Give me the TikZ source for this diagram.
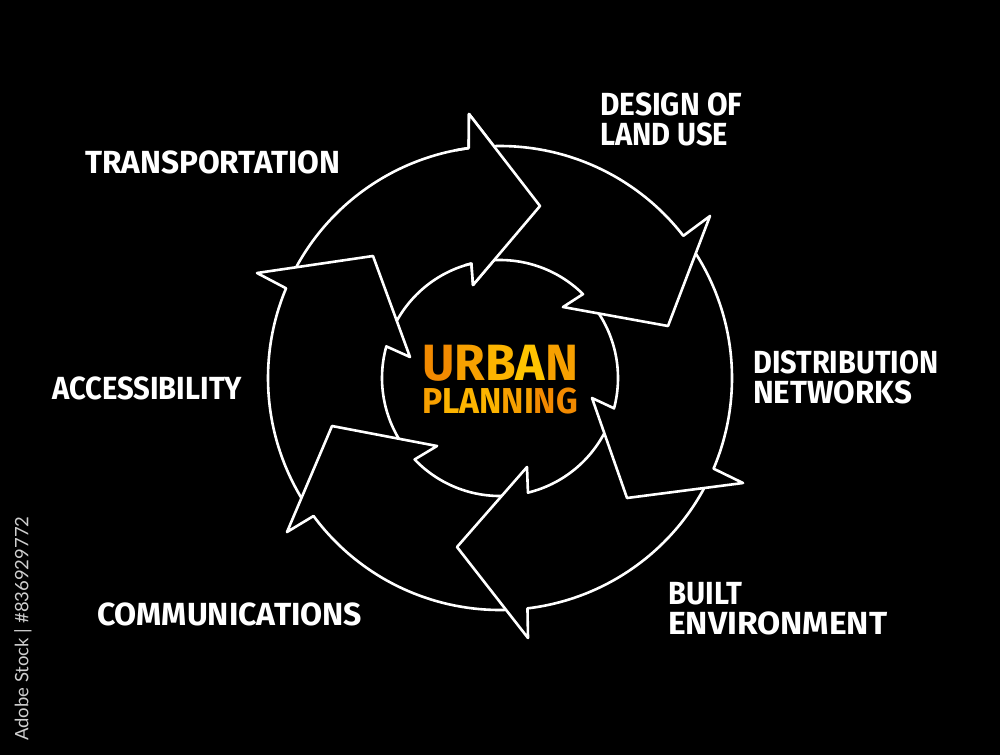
\documentclass[tikz,border=0pt]{standalone}
\usepackage{fontspec}
\usepackage{graphicx}
\newfontfamily\labfont{Fira Sans}
\newfontfamily\wmfont{Lato}
\definecolor{oA}{HTML}{F28A00}
\definecolor{oB}{HTML}{F7A000}
\definecolor{oC}{HTML}{FCB400}
\definecolor{oD}{HTML}{FFC400}
\definecolor{wmgray}{HTML}{CFCFCF}
% one line of text brought to a given width, height kept
\newcommand\fitw[2]{\resizebox{#1pt}{\height}{#2}}
% arc-arrow: #1 tail outer angle, #2 outer body end angle, #3 outer barb, #4 tip,
% #5 inner barb, #6 inner body end angle, #7 tail inner angle
\newcommand\cyclearrow[7]{%
  \filldraw[arrowshape] ([shift={(C)}]#1:232) arc[start angle=#1,end angle=#2,radius=232]
    -- #3 -- #4 -- #5 -- ([shift={(C)}]#6:118) arc[start angle=#6,end angle=#7,radius=118] -- cycle;}
\begin{document}
\begin{tikzpicture}[x=1pt,y=-1pt,
  arrowshape/.style={fill=black, draw=white, line width=2.6pt, line join=round},
  headline/.style={draw=white, line width=2.6pt, line join=round},
  lab/.style={text=white, inner sep=0pt, align=left,
    font=\labfont\bfseries\fontsize{32}{30}\selectfont},
  centre/.style={inner sep=0pt},
]
\fill[black] (0,0) rectangle (1000,755);
\useasboundingbox (0,0) rectangle (1000,755);
\coordinate (C) at (500,378);

% arrows, drawn so that each head lies on the tail of the next one
\cyclearrow{-154.75}{-97.75}{(469,114)}{(540,206)}{(473,285)}{-104}{-159.45}   % A top
\cyclearrow{146}{202.75}{(257,273)}{(373,256)}{(410,357)}{195.55}{141.35}     % F left
\cyclearrow{85.7}{143.5}{(287,532)}{(332,426)}{(437,446)}{136.35}{81.3}       % E bottom left
\cyclearrow{25.5}{83.2}{(528,638)}{(457,547)}{(527,467)}{76.3}{19.9}          % D bottom
\cyclearrow{-35.3}{23.0}{(743,483)}{(627,498)}{(592,398)}{14.9}{-40.3}        % C right low
\cyclearrow{-95.25}{-37.8}{(710,216)}{(668,326)}{(563,307)}{-45.3}{-99}       % B right high
% head of A again, over the tail of B
\fill[black] ([shift={(C)}]-97.75:232) -- (469,114) -- (540,206) -- (473,285)
  -- ([shift={(C)}]-104:118) -- cycle;
\draw[headline] ([shift={(C)}]-101:232) arc[start angle=-101,end angle=-97.75,radius=232]
  -- (469,114) -- (540,206) -- (473,285) -- ([shift={(C)}]-104:118)
  arc[start angle=-104,end angle=-107,radius=118];

% centre
\node[centre, anchor=north, font=\labfont\bfseries\fontsize{51}{51}\selectfont] (urban) at (500,345)
  {\fitw{156}{{\color{oA}U}{\color{oB}R}{\color{oC}B}{\color{oD}A}{\color{oB}N}}};
\node[centre, anchor=north, font=\labfont\bfseries\fontsize{36}{36}\selectfont] (planning) at (500,388)
  {\fitw{156}{{\color{oB}P}{\color{oC}L}{\color{oC}A}{\color{oC}N}{\color{oB}N}{\color{oB}I}{\color{oA}N}{\color{oA}G}}};

% labels
\node[lab, anchor=north west] (transp) at (85,151) {\fitw{255}{TRANSPORTATION}};
\node[lab, anchor=north west] (design) at (600,93) {\fitw{142}{DESIGN OF}\\\fitw{128}{LAND USE}};
\node[lab, anchor=north west] (distr) at (753,351) {\fitw{185}{DISTRIBUTION}\\\fitw{159}{NETWORKS}};
\node[lab, anchor=north west] (access) at (52,377) {\fitw{190}{ACCESSIBILITY}};
\node[lab, anchor=north west] (built) at (668,582) {\fitw{74}{BUILT}\\\fitw{219}{ENVIRONMENT}};
\node[lab, anchor=north west] (comm) at (97,603) {\fitw{265}{COMMUNICATIONS}};

% side credit
\node[rotate=90, anchor=west, inner sep=0pt, text=wmgray,
  font=\wmfont\fontsize{18.5}{18.5}\selectfont] (credit) at (23,741) {Adobe Stock | \#836929772};
\end{tikzpicture}
\end{document}
